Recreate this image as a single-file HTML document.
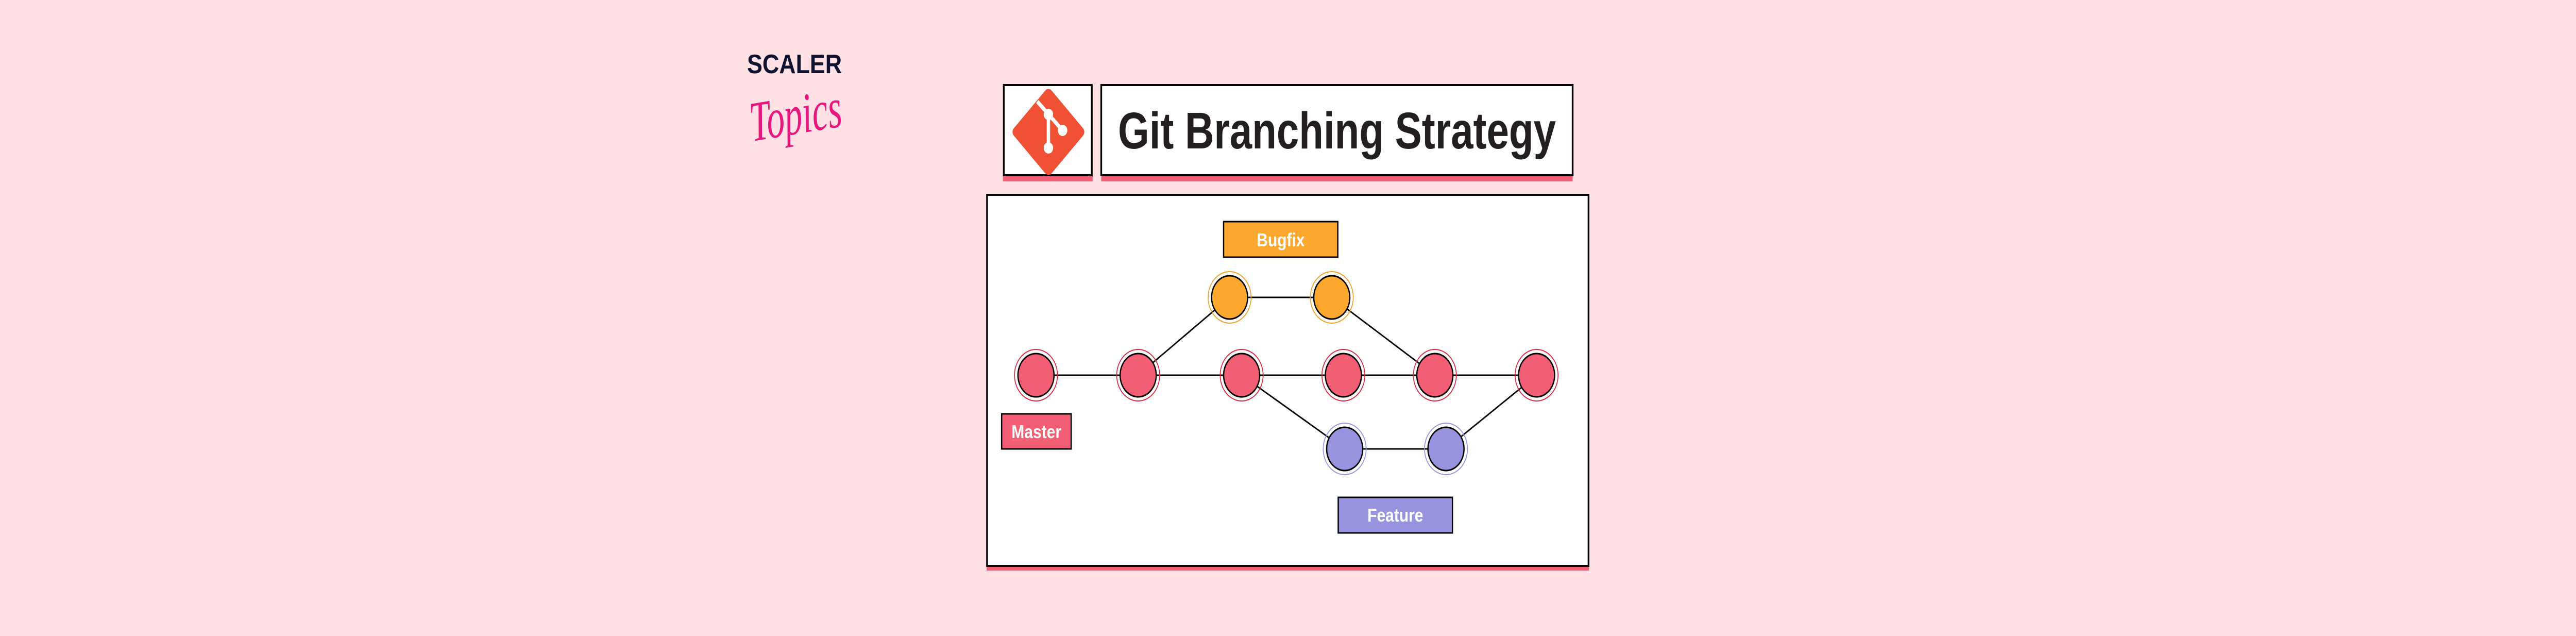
<!DOCTYPE html>
<html><head><meta charset="utf-8"><style>html,body{margin:0;padding:0;background:#FFE1E6;width:100%;height:100%;overflow:hidden}svg{display:block;width:100vw;height:100vh}</style></head>
<body>
<svg viewBox="0 0 6000 1234" preserveAspectRatio="none" xmlns="http://www.w3.org/2000/svg">
<rect width="6000" height="1234" fill="#FFE1E6"/>
<text x="1740" y="142" font-family="Liberation Sans, sans-serif" font-weight="bold" font-size="52" fill="#0f1330" textLength="221" lengthAdjust="spacingAndGlyphs">SCALER</text>
<text x="1745" y="260" font-family="Liberation Serif, serif" font-style="italic" font-size="110" fill="#E8177E" textLength="215" lengthAdjust="spacingAndGlyphs" transform="rotate(-8 1850 220)">Topics</text>
<rect x="2336" y="340" width="209" height="12" fill="#F25F74"/>
<rect x="2338" y="165" width="205" height="175" fill="#fff" stroke="#000" stroke-width="4"/>
<rect x="2380" y="194" width="124" height="124" rx="10" fill="#F05033" transform="rotate(45 2442 256)"/>
<g stroke="#fff" stroke-width="8" fill="none"><line x1="2416" y1="197" x2="2475" y2="253"/><line x1="2442" y1="222" x2="2442" y2="287"/></g>
<g fill="#fff"><circle cx="2442" cy="222" r="11"/><circle cx="2475" cy="253" r="11"/><circle cx="2442" cy="287" r="11"/></g>
<rect x="2565" y="340" width="1098" height="12" fill="#F25F74"/>
<rect x="2565" y="165" width="1098" height="175" fill="#fff" stroke="#000" stroke-width="4"/>
<text x="2604" y="288" font-family="Liberation Sans, sans-serif" font-weight="bold" font-size="100" fill="#231f20" textLength="1020" lengthAdjust="spacingAndGlyphs">Git Branching Strategy</text>
<rect x="2298" y="1097" width="1403" height="10" fill="#F25F74"/>
<rect x="2299" y="378" width="1401" height="720" fill="#fff" stroke="#000" stroke-width="4"/>
<g stroke="#000" stroke-width="3" fill="none">
<line x1="2413" y1="728" x2="3579" y2="728"/>
<line x1="2651" y1="728" x2="2864" y2="577"/>
<line x1="2864" y1="577" x2="3102" y2="577"/>
<line x1="3102" y1="577" x2="3342" y2="728"/>
<line x1="2892" y1="728" x2="3132" y2="871"/>
<line x1="3132" y1="871" x2="3368" y2="871"/>
<line x1="3368" y1="871" x2="3579" y2="728"/>
</g>
<g stroke-width="3">
<g fill="#F25F74" stroke="#000">
<circle cx="2413" cy="728" r="42"/><circle cx="2651" cy="728" r="42"/><circle cx="2892" cy="728" r="42"/><circle cx="3129" cy="728" r="42"/><circle cx="3342" cy="728" r="42"/><circle cx="3579" cy="728" r="42"/>
</g>
<g fill="none" stroke="#E0243E" stroke-width="2">
<circle cx="2413" cy="728" r="50"/><circle cx="2651" cy="728" r="50"/><circle cx="2892" cy="728" r="50"/><circle cx="3129" cy="728" r="50"/><circle cx="3342" cy="728" r="50"/><circle cx="3579" cy="728" r="50"/>
</g>
<circle cx="2864" cy="577" r="42" fill="#FCA82E" stroke="#000"/><circle cx="3102" cy="577" r="42" fill="#FCA82E" stroke="#000"/>
<circle cx="2864" cy="577" r="50" fill="none" stroke="#F0A020" stroke-width="2"/><circle cx="3102" cy="577" r="50" fill="none" stroke="#F0A020" stroke-width="2"/>
<circle cx="3132" cy="871" r="42" fill="#9893DE" stroke="#000"/><circle cx="3368" cy="871" r="42" fill="#9893DE" stroke="#000"/>
<circle cx="3132" cy="871" r="50" fill="none" stroke="#9893DE" stroke-width="2"/><circle cx="3368" cy="871" r="50" fill="none" stroke="#9893DE" stroke-width="2"/>
</g>
<rect x="2850" y="430" width="266" height="69" fill="#FCA82E" stroke="#000" stroke-width="3"/>
<text x="2983" y="478" text-anchor="middle" font-family="Liberation Sans, sans-serif" font-weight="bold" font-size="36" fill="#fff">Bugfix</text>
<rect x="2333" y="803" width="162" height="68" fill="#F25F74" stroke="#000" stroke-width="3"/>
<text x="2414" y="850" text-anchor="middle" font-family="Liberation Sans, sans-serif" font-weight="bold" font-size="36" fill="#fff">Master</text>
<rect x="3117" y="965" width="266" height="69" fill="#9893DE" stroke="#000" stroke-width="3"/>
<text x="3250" y="1012" text-anchor="middle" font-family="Liberation Sans, sans-serif" font-weight="bold" font-size="36" fill="#fff">Feature</text>
</svg>
</body></html>
